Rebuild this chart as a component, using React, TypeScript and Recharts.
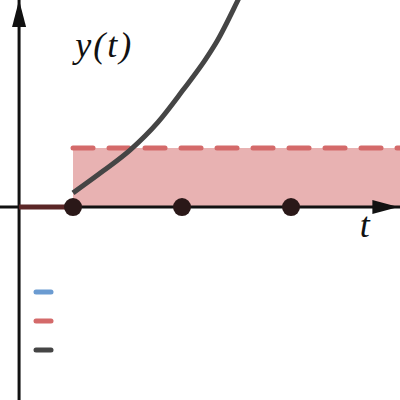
import React from 'react';
import {
  ComposedChart, Line, XAxis, YAxis, ReferenceArea, ReferenceLine,
  Scatter, Legend,
} from 'recharts';

// time axis (units of t) and value axis
const xDomain = [-0.67, 3.0];
const yDomain = [-3.27, 3.51];
const yAxisAt = -0.495;

// unit step input, shaded from t=0 on
const stepT = [0, 3];
const stepV = [1, 1];

// zero segment before t=0
const preT = [-0.495, 0];
const preV = [0, 0];

// sampled points on the axis
const sampleT = [0, 1, 2];

// response curve y(t)
const curveT = [0, 0.275, 0.523, 0.78, 1.009, 1.211, 1.321, 1.514, 1.624];
const curveV = [0.24, 0.61, 0.966, 1.44, 1.983, 2.49, 2.81, 3.51, 3.93];

// text labels
const labelTexts = ['y(t)', 't'];
const labelT = [0.02, 2.63];
const labelV = [2.55, -0.51];

// legend entries (swatches only)
const legendNames = ['u(t)', 'x(t)', 'y(t)'];
const legendColors = ['#6b9bd1', '#d46a6a', '#454545'];

const stepData = stepT.map((t, i) => ({ t, v: stepV[i] }));
const preData = preT.map((t, i) => ({ t, v: preV[i] }));
const sampleData = sampleT.map((t) => ({ t, v: 0 }));
const curveData = curveT.map((t, i) => ({ t, v: curveV[i] }));
const labelData = labelTexts.map((text, i) => ({ t: labelT[i], v: labelV[i], text }));
const upArrow = [{ t: yAxisAt, v: yDomain[1] }];
const rightArrow = [{ t: 2.985, v: 0 }];

const UpTri = (p: any) => (
  <polygon
    points={`${p.cx},${p.cy} ${p.cx - 7},${p.cy + 27} ${p.cx + 7},${p.cy + 27}`}
    fill="#111"
  />
);
const RightTri = (p: any) => (
  <polygon
    points={`${p.cx},${p.cy} ${p.cx - 26},${p.cy - 7} ${p.cx - 26},${p.cy + 7}`}
    fill="#111"
  />
);
const SampleDot = (p: any) => <circle cx={p.cx} cy={p.cy} r={9} fill="#2a1818" />;

const MathText = (p: any) => (
  <text
    x={p.cx}
    y={p.cy}
    fontFamily="'Liberation Serif', 'DejaVu Serif', serif"
    fontStyle="italic"
    fontSize={36}
    fill="#111"
    letterSpacing={2}
  >
    {p.payload.text}
  </text>
);

const LegendContent = () => (
  <svg width={40} height={80}>
    {legendNames.map((n, i) => (
      <line
        key={n}
        x1={4}
        x2={19}
        y1={8 + i * 29}
        y2={8 + i * 29}
        stroke={legendColors[i]}
        strokeWidth={5}
        strokeLinecap="round"
      />
    ))}
  </svg>
);

export default function App() {
  return (
    <div style={{ position: 'fixed', left: 0, top: 0, width: 400, height: 400, background: '#fff' }}>
      <ComposedChart width={400} height={400} margin={{ top: 0, right: 0, bottom: 0, left: 0 }}>
        <XAxis type="number" dataKey="t" domain={xDomain} hide allowDataOverflow />
        <YAxis type="number" dataKey="v" domain={yDomain} hide allowDataOverflow />
        <ReferenceArea x1={stepT[0]} x2={stepT[1]} y1={0} y2={stepV[0]} fill="#e8b2b2" fillOpacity={1} stroke="none" ifOverflow="hidden" />
        <ReferenceLine x={yAxisAt} stroke="#111" strokeWidth={3} />
        <ReferenceLine y={0} stroke="#111" strokeWidth={3} />
        <Line data={stepData} dataKey="v" stroke="#d46a6a" strokeWidth={5} strokeDasharray="20 16" strokeLinecap="round" dot={false} activeDot={false} isAnimationActive={false} legendType="none" />
        <Line data={preData} dataKey="v" stroke="#5a2626" strokeWidth={5} dot={false} activeDot={false} isAnimationActive={false} legendType="none" />
        <Line data={curveData} dataKey="v" type="monotone" stroke="#454545" strokeWidth={5} dot={false} activeDot={false} isAnimationActive={false} legendType="none" />
        <Scatter data={sampleData} dataKey="v" shape={SampleDot} isAnimationActive={false} legendType="none" />
        <Scatter data={upArrow} dataKey="v" shape={UpTri} isAnimationActive={false} legendType="none" />
        <Scatter data={rightArrow} dataKey="v" shape={RightTri} isAnimationActive={false} legendType="none" />
        <Scatter data={labelData} dataKey="v" shape={MathText} isAnimationActive={false} legendType="none" />
        <Legend
          layout="horizontal"
          verticalAlign="middle"
          align="center"
          content={LegendContent}
          wrapperStyle={{ left: 32, top: 284, width: 40, height: 80 }}
        />
      </ComposedChart>
    </div>
  );
}
